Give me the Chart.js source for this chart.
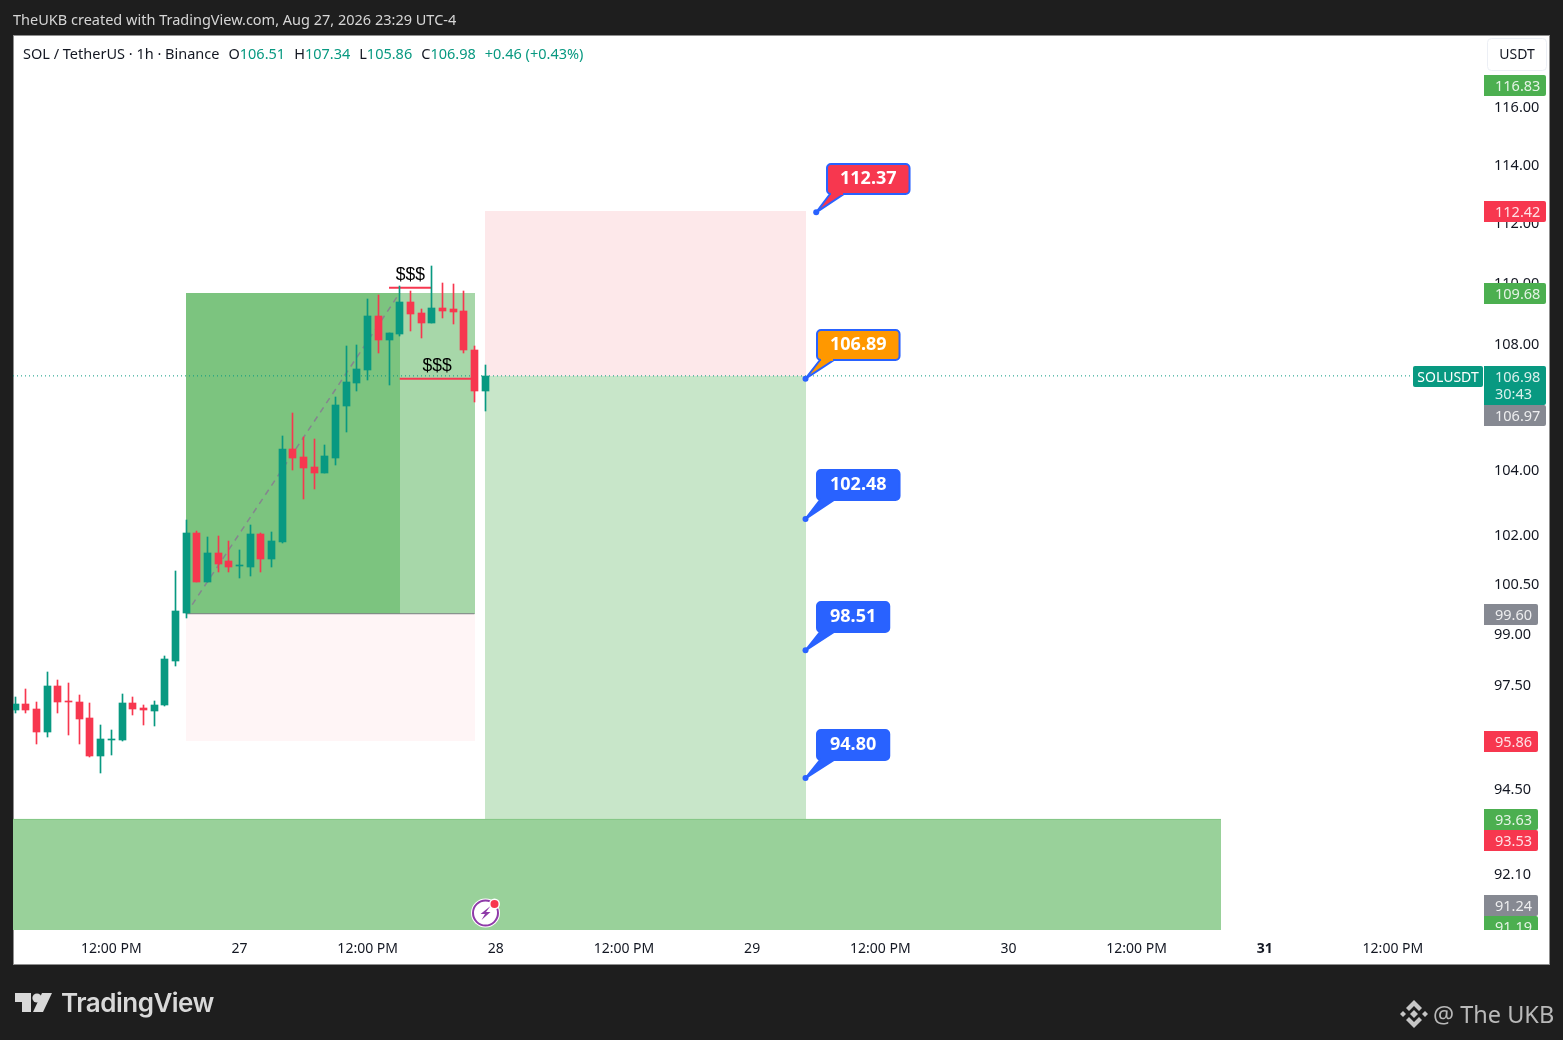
<!DOCTYPE html>
<html>
<head>
<meta charset="utf-8">
<title>SOLUSDT 1h</title>
<script src="https://cdn.jsdelivr.net/npm/chart.js@4"></script>
<style>
html, body { margin: 0; padding: 0; background: #1e1e1e; overflow: hidden; }
body { width: 1563px; height: 1040px; position: relative; font-family: "Noto Sans", sans-serif; }
canvas { position: absolute; left: 0; top: 0; }
.txt { position: absolute; white-space: nowrap; }
#credit { left: 13px; top: 10px; font-size: 14.5px; line-height: 19px; color: #d6d6d6; }
#legend { left: 23px; top: 44px; font-size: 14.5px; line-height: 19px; color: #131722; }
#legend b { font-weight: normal; color: #089981; }
#legend i { font-style: normal; margin-left: 9px; }
#brand { left: 61px; top: 985px; font-family: Inter, sans-serif; font-weight: 600; font-size: 26px; line-height: 35px; color: #d9d9d9; letter-spacing: -0.5px; }
#author { left: 1433px; top: 998px; font-size: 23.5px; line-height: 33px; color: #b9b9b9; }
svg { position: absolute; left: 0; top: 0; }
</style>
</head>
<body>
<canvas id="chart" width="1563" height="1040"></canvas>
<svg width="1563" height="1040">
	<g fill="#d9d9d9">
		<polygon points="15,993 31,993 31,1012 22,1012 22,1002 15,1002"></polygon>
		<circle cx="37" cy="998" r="4.6"></circle>
		<polygon points="52,993 43,1012 33,1012 42,993"></polygon>
	</g>
	<g fill="#c6c6c6">
		<polygon points="1414,1000 1422,1008 1419,1011 1414,1006 1409,1011 1406,1008"></polygon>
		<polygon points="1414,1028 1422,1020 1419,1017 1414,1022 1409,1017 1406,1020"></polygon>
		<polygon points="1414,1010 1418,1014 1414,1018 1410,1014"></polygon>
		<polygon points="1403,1011 1406,1014 1403,1017 1400,1014"></polygon>
		<polygon points="1425,1011 1428,1014 1425,1017 1422,1014"></polygon>
	</g>
</svg>
<div class="txt" id="credit">TheUKB created with TradingView.com, Aug 27, 2026 23:29 UTC-4</div>
<div class="txt" id="legend">SOL / TetherUS · 1h · Binance<i>O<b>106.51</b></i><i>H<b>107.34</b></i><i>L<b>105.86</b></i><i>C<b>106.98</b></i><i><b>+0.46 (+0.43%)</b></i></div>
<div class="txt" id="brand">TradingView</div>
<div class="txt" id="author">@ The UKB</div>

<script>
//candles, hours are counted from Aug 26 00:00
var hours  = [3,4,5,6,7,8,9,10,11,12,13,14,15,16,17,18,19,20,21,22,23,24,25,26,27,28,29,30,31,32,33,34,35,36,37,38,39,40,41,42,43,44,45,46,47];
var opens  = [96.77,96.94,96.80,96.13,97.47,97.03,97.00,96.54,95.44,95.90,95.90,96.97,96.83,96.74,96.91,98.21,99.63,102.06,100.54,101.42,101.18,101.05,101.02,102.03,101.24,101.76,104.64,104.39,104.08,103.89,104.36,106.01,106.75,107.17,108.93,108.14,108.33,109.38,109.02,108.69,109.19,109.15,109.09,107.81,106.51];
var highs  = [97.15,97.38,97.00,97.88,97.65,97.56,97.21,96.97,96.33,96.19,97.24,97.15,96.91,97.03,98.35,100.90,102.46,102.12,101.91,101.94,101.79,101.54,102.28,102.06,102.09,105.06,105.79,105.02,104.96,104.77,106.30,107.94,107.97,109.48,109.62,108.37,109.91,109.75,109.15,110.58,110.01,109.98,109.75,107.94,107.34];
var lows   = [96.66,96.68,95.78,95.99,96.68,96.04,95.78,95.41,94.95,95.47,95.87,96.62,96.33,96.30,96.88,98.06,99.48,100.54,100.54,100.87,100.87,100.69,100.75,100.87,101.02,101.73,103.99,103.08,103.39,103.89,104.14,105.18,106.49,106.85,107.71,106.68,108.27,108.43,108.20,108.69,108.86,108.66,107.71,106.14,105.86];
var closes = [96.94,96.77,96.13,97.47,97.00,97.00,96.51,95.44,95.93,95.93,96.97,96.80,96.77,96.91,98.24,99.69,102.06,100.54,101.45,101.11,101.02,101.08,102.03,101.24,101.79,104.64,104.36,104.05,103.89,104.42,106.04,106.78,107.20,108.93,108.14,108.37,109.38,108.99,108.69,109.19,109.09,109.06,107.81,106.49,106.98];

//axes
var priceTicks = [116,114,112,110,108,106,104,102,100.5,99,97.5,96,94.5,92.1];
var timeTicks  = [12,24,36,48,60,72,84,96,108,120,132];
var timeLabels = ['12:00 PM','27','12:00 PM','28','12:00 PM','29','12:00 PM','30','12:00 PM','31','12:00 PM'];
var boldTime   = 120;

//shaded zones: hour from, hour to, price top, price bottom, colour
var zoneStart  = [19,19,19,47,47,2];
var zoneEnd    = [46,39,46,77,77,115.9];
var zoneTop    = [109.68,109.68,99.60,112.42,106.97,93.63];
var zoneBottom = [99.60,99.60,95.86,106.97,93.63,90];
var zoneColor  = ['#a7d7a9','#7cc47f','#fff5f6','#fde8ea','#c8e6c9','#99d19a'];

//dashed guide and the two $$$ levels
var guideHours  = [19,39];
var guidePrices = [99.60,109.68];
var levelHours  = [[38,42],[39,46]];
var levelPrices = [109.85,106.89];
var levelTexts  = ['$$$','$$$'];

var lastPrice = 106.98;

//callouts
var calloutHours  = [78,77,77,77,77];
var calloutPrices = [112.37,106.89,102.48,98.51,94.80];
var calloutColors = ['#f7374f','#ff9800','#2962ff','#2962ff','#2962ff'];

//price tags on the axis
var tagPrices = [116.83,112.42,109.68,106.98,106.97,99.60,95.86,93.63,93.53,91.24,91.19];
var tagColors = ['#4caf50','#f7374f','#4caf50','#089981','#868992','#868992','#f7374f','#4caf50','#f7374f','#868992','#4caf50'];

var UP = '#089981', DOWN = '#f7374f', FONT = '"Noto Sans", sans-serif';

function candleColor(i) { return closes[i] >= opens[i] ? UP : DOWN; }

var bodies = hours.map(function(h, i) { return {x: h, y: [Math.min(opens[i], closes[i]), Math.max(opens[i], closes[i])]}; });
var wicks  = hours.map(function(h, i) { return {x: h, y: [lows[i], highs[i]]}; });

function lineSet(xs, ys, color, width, dash) {
	return {
		type: 'line', order: 2, borderColor: color, borderWidth: width, borderDash: dash,
		pointRadius: 0, data: xs.map(function(x, i) { return {x: x, y: ys[i]}; })
	};
}

function roundedBox(ctx, x, y, w, h, r) {
	ctx.beginPath();
	ctx.roundRect(x, y, w, h, r);
}

//the canvas frame, zones and crisp candles
var backdrop = {
	id: 'backdrop',
	beforeDraw: function(chart) {
		var ctx = chart.ctx;
		ctx.fillStyle = '#1e1e1e';
		ctx.fillRect(0, 0, 1563, 1040);
		ctx.fillStyle = '#ffffff';
		ctx.fillRect(13, 35, 1536, 929);
		ctx.strokeStyle = '#8f8f8f';
		ctx.lineWidth = 1;
		ctx.strokeRect(13.5, 35.5, 1536, 929);
	},
	beforeDatasetsDraw: function(chart) {
		var ctx = chart.ctx, a = chart.chartArea, xs = chart.scales.x, ys = chart.scales.y;
		ctx.save();
		ctx.beginPath();
		ctx.rect(a.left, a.top, a.right - a.left, a.bottom - a.top);
		ctx.clip();
		zoneStart.forEach(function(h, i) {
			var x0 = Math.floor(xs.getPixelForValue(h)), x1 = Math.ceil(xs.getPixelForValue(zoneEnd[i]));
			var y0 = Math.round(ys.getPixelForValue(zoneTop[i])), y1 = Math.round(ys.getPixelForValue(zoneBottom[i]));
			if (i === 1) x1 = Math.round(xs.getPixelForValue(zoneEnd[i]));
			ctx.fillStyle = zoneColor[i];
			ctx.fillRect(x0, y0, x1 - x0, y1 - y0);
		});
		ctx.restore();

		//snap the candles to whole pixels
		[0, 1].forEach(function(d) {
			chart.getDatasetMeta(d).data.forEach(function(el) {
				el.x = Math.floor(el.x) + 0.5;
				el.y = Math.round(el.y);
				el.base = Math.max(Math.round(el.base), el.y + 1);
			});
		});
	},
	afterDatasetsDraw: function(chart) {
		var ctx = chart.ctx, xs = chart.scales.x, ys = chart.scales.y;
		ctx.fillStyle = '#000000';
		ctx.font = '17.5px "Liberation Sans", sans-serif';
		ctx.textAlign = 'center';
		ctx.textBaseline = 'bottom';
		levelTexts.forEach(function(t, i) {
			var mid = levelHours[i][0] + (i === 0 ? 2 : 3.5);
			ctx.fillText(t, xs.getPixelForValue(mid), ys.getPixelForValue(levelPrices[i]) - 4);
		});
	},
	afterDraw: function(chart) {
		var ctx = chart.ctx, xs = chart.scales.x, ys = chart.scales.y;

		//callouts
		calloutPrices.forEach(function(p, i) {
			var px = xs.getPixelForValue(calloutHours[i]), py = ys.getPixelForValue(p);
			var text = p.toFixed(2);
			ctx.font = 'bold 18px ' + FONT;
			var w = ctx.measureText(text).width + 26, h = 30;
			var bx = Math.round(px) + 11, by = Math.round(py - 48.6);
			ctx.strokeStyle = '#2962ff';
			ctx.fillStyle = calloutColors[i];
			ctx.lineWidth = 2;
			ctx.lineJoin = 'round';
			ctx.beginPath();
			ctx.moveTo(px, py);
			ctx.lineTo(bx + 3, by + h);
			ctx.lineTo(bx + 17, by + h);
			ctx.closePath();
			ctx.fill();
			ctx.stroke();
			roundedBox(ctx, bx, by, w, h, 4);
			ctx.fill();
			ctx.stroke();
			ctx.fillStyle = calloutColors[i];
			ctx.fillRect(bx + 4, by + h - 2, 12, 3);
			ctx.fillStyle = '#2962ff';
			ctx.beginPath();
			ctx.arc(px, py, 3, 0, Math.PI * 2);
			ctx.fill();
			ctx.fillStyle = '#ffffff';
			ctx.textAlign = 'center';
			ctx.textBaseline = 'middle';
			ctx.fillText(text, bx + w / 2, by + h / 2);
		});

		//SOLUSDT flag next to the last price
		var lastY = Math.round(ys.getPixelForValue(lastPrice));
		ctx.fillStyle = UP;
		roundedBox(ctx, 1413, lastY - 10, 70, 21, 2);
		ctx.fill();
		ctx.fillStyle = '#ffffff';
		ctx.font = '14px ' + FONT;
		ctx.textAlign = 'center';
		ctx.textBaseline = 'middle';
		ctx.fillText('SOLUSDT', 1448, lastY + 2);

		//axis tags, pushed down when they would overlap
		ctx.save();
		ctx.beginPath();
		ctx.rect(1484, 35, 65, 895);
		ctx.clip();
		var bottom = 75;
		tagPrices.forEach(function(p, i) {
			var text = p.toFixed(2);
			var isLast = p === lastPrice;
			var h = isLast ? 39 : 21;
			var top = Math.max(Math.round(ys.getPixelForValue(p)) - 10, bottom);
			bottom = top + h;
			ctx.fillStyle = tagColors[i];
			roundedBox(ctx, 1484, top, text.length > 5 ? 62 : 54, h, [0, 2, 2, 0]);
			ctx.fill();
			ctx.fillStyle = 'rgba(255,255,255,0.85)';
			ctx.font = '14.5px ' + FONT;
			ctx.textAlign = 'left';
			ctx.textBaseline = 'middle';
			ctx.fillText(text, 1495, top + 11.5);
			if (isLast) ctx.fillText('30:43', 1495, top + 28.5);
		});
		ctx.restore();

		//USDT button
		ctx.strokeStyle = '#eceff5';
		ctx.lineWidth = 1;
		roundedBox(ctx, 1487.5, 38.5, 59, 32, 4);
		ctx.fillStyle = '#ffffff';
		ctx.fill();
		ctx.stroke();
		ctx.fillStyle = '#131722';
		ctx.font = '14px ' + FONT;
		ctx.textAlign = 'center';
		ctx.fillText('USDT', 1517, 55);

		//lightning badge on the time axis edge
		var cx = 485.5, cy = 913;
		ctx.fillStyle = '#ffffff';
		ctx.beginPath();
		ctx.arc(cx, cy, 14.5, 0, Math.PI * 2);
		ctx.fill();
		ctx.strokeStyle = '#8e3ba8';
		ctx.lineWidth = 2;
		ctx.beginPath();
		ctx.arc(cx, cy, 12.5, 0, Math.PI * 2);
		ctx.stroke();
		ctx.fillStyle = '#8e3ba8';
		ctx.beginPath();
		ctx.moveTo(cx + 5, cy - 7);
		ctx.lineTo(cx - 5, cy + 1);
		ctx.lineTo(cx - 0.5, cy + 1);
		ctx.lineTo(cx - 4, cy + 7);
		ctx.lineTo(cx + 5, cy - 1);
		ctx.lineTo(cx + 0.5, cy - 1);
		ctx.closePath();
		ctx.fill();
		ctx.fillStyle = '#ffffff';
		ctx.beginPath();
		ctx.arc(cx + 9, cy - 9, 5.5, 0, Math.PI * 2);
		ctx.fill();
		ctx.fillStyle = '#f7374f';
		ctx.beginPath();
		ctx.arc(cx + 9, cy - 9, 4, 0, Math.PI * 2);
		ctx.fill();
	}
};

var chart = new Chart(document.getElementById('chart'), {
	type: 'bar',
	plugins: [backdrop],
	data: {
		datasets: [
			{
				order: 1, barThickness: 1, grouped: false, data: wicks,
				backgroundColor: hours.map(function(h, i) { return candleColor(i); })
			},
			{
				order: 0, barThickness: 7, grouped: false, data: bodies,
				backgroundColor: hours.map(function(h, i) { return candleColor(i); })
			},
			lineSet(guideHours, guidePrices, '#85858f', 1.5, [6, 5]),
			lineSet(levelHours[0], [levelPrices[0], levelPrices[0]], DOWN, 2, []),
			lineSet(levelHours[1], [levelPrices[1], levelPrices[1]], DOWN, 2, []),
			lineSet([2.79, 140.53], [lastPrice, lastPrice], UP, 1, [1, 3]),
			lineSet([19, 46], [99.60, 99.60], '#7f7f86', 1, []),
			lineSet([2.79, 115.9], [93.63, 93.63], '#84c786', 1, [])
		]
	},
	options: {
		responsive: false,
		animation: false,
		devicePixelRatio: 1,
		events: [],
		layout: { padding: { left: 13, top: 35, right: 14, bottom: 76 } },
		plugins: { legend: { display: false }, tooltip: { enabled: false } },
		scales: {
			x: {
				type: 'linear',
				min: 2.79,
				max: 140.53,
				offset: false,
				grid: { display: false, drawTicks: false },
				border: { display: false },
				afterFit: function(scale) { scale.height = 34; },
				afterBuildTicks: function(scale) {
					scale.ticks = timeTicks.map(function(v) { return {value: v}; });
				},
				ticks: {
					autoSkip: false,
					maxRotation: 0,
					padding: 11,
					color: '#131722',
					font: function(ctx) {
						var bold = ctx.tick && ctx.tick.value === boldTime;
						return { family: FONT, size: 14, weight: bold ? 'bold' : 'normal' };
					},
					callback: function(v) { return timeLabels[timeTicks.indexOf(v)]; }
				}
			},
			y: {
				type: 'logarithmic',
				position: 'right',
				min: 90.57,
				max: 118.52,
				grid: { display: false, drawTicks: false },
				border: { display: false },
				afterFit: function(scale) {
					scale.width = 65;
					//tick text sits a pixel lower than the library puts it
					if (!scale.shiftedLabels) {
						scale.shiftedLabels = true;
						var drawLabels = scale.drawLabels;
						scale.drawLabels = function(area) {
							scale.ctx.save();
							scale.ctx.translate(0, 1);
							drawLabels.call(scale, area);
							scale.ctx.restore();
						};
					}
				},
				afterBuildTicks: function(scale) {
					scale.ticks = priceTicks.map(function(v) { return {value: v}; });
				},
				ticks: {
					autoSkip: false,
					padding: 10,
					color: '#131722',
					font: { family: FONT, size: 14.5 },
					callback: function(v) { return Number(v).toFixed(2); }
				}
			}
		}
	}
});
</script>
</body>
</html>
